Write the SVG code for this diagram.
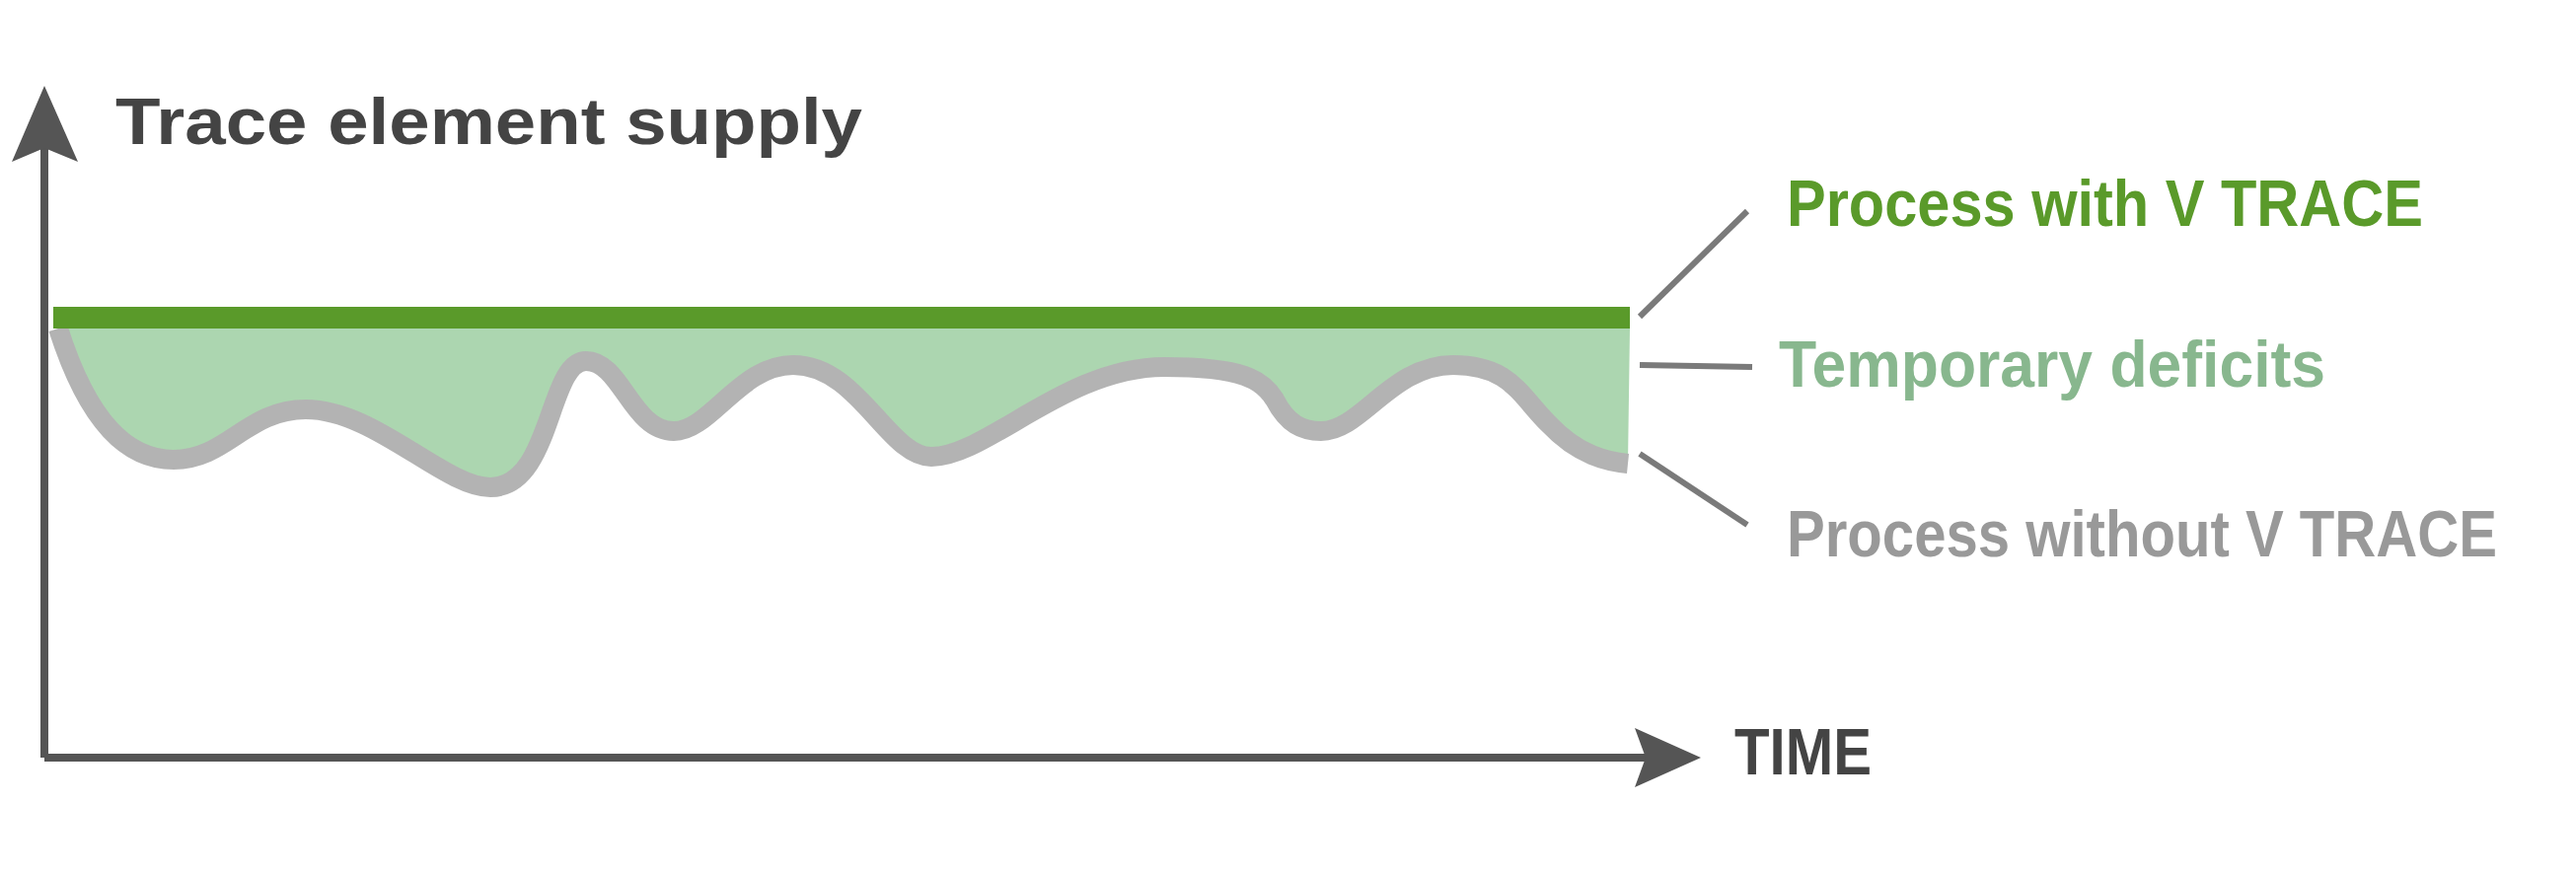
<svg xmlns="http://www.w3.org/2000/svg" width="2611" height="889" viewBox="0 0 2611 889">
<style>
.t{font-family:"Liberation Sans",Arial,sans-serif;font-weight:bold;font-size:66px}
.ax{stroke:#555;stroke-width:8;fill:none}
.c{stroke:#7a7a7a;stroke-width:6}
</style>
<rect width="2611" height="889" fill="#fff"/>
<g id="chart">
<path d="M59,333 C90,430 130,466 176,466 C230,466 250,415 310,415 C380,415 450,494 497,494 C560,494 555,366 594,366 C630,366 640,437 683,437 C720,437 750,370 804,370 C870,370 900,463 944,463 C1000,463 1080,372 1180,372 C1260,372 1280,385 1292,405 C1305,430 1320,437 1339,437 C1380,437 1410,370 1473,370 C1530,370 1540,400 1570,430 C1600,462 1630,468 1650,470 L1652,333 L54,333 Z" fill="#acd6b0"/>
<path d="M59,333 C90,430 130,466 176,466 C230,466 250,415 310,415 C380,415 450,494 497,494 C560,494 555,366 594,366 C630,366 640,437 683,437 C720,437 750,370 804,370 C870,370 900,463 944,463 C1000,463 1080,372 1180,372 C1260,372 1280,385 1292,405 C1305,430 1320,437 1339,437 C1380,437 1410,370 1473,370 C1530,370 1540,400 1570,430 C1600,462 1630,468 1650,470" fill="none" stroke="#b3b3b3" stroke-width="20"/>
<rect x="54" y="311" width="1598" height="22" fill="#5a9a2a"/>
</g>
<g id="axes">
<path class="ax" d="M45,768 V140 M45,768 H1670"/>
<path d="M45,87 L79,164 L45,150 L12,164 Z" fill="#555"/>
<path d="M1724,768 L1657,738 L1668,768 L1657,798 Z" fill="#555"/>
</g>
<g id="connectors">
<line class="c" x1="1662" y1="321" x2="1771" y2="214"/>
<line class="c" x1="1662" y1="370" x2="1776" y2="372"/>
<line class="c" x1="1662" y1="460" x2="1771" y2="532"/>
</g>
<g id="labels">
<text class="t" x="117" y="146" fill="#444" textLength="757" lengthAdjust="spacingAndGlyphs">Trace element supply</text>
<text class="t" x="1811" y="229" fill="#5a9a2a" textLength="645" lengthAdjust="spacingAndGlyphs">Process with V TRACE</text>
<text class="t" x="1803" y="392" fill="#88b78e" textLength="554" lengthAdjust="spacingAndGlyphs">Temporary deficits</text>
<text class="t" x="1811" y="564" fill="#999" textLength="720" lengthAdjust="spacingAndGlyphs">Process without V TRACE</text>
<text class="t" x="1758" y="785" fill="#444" textLength="139" lengthAdjust="spacingAndGlyphs">TIME</text>
</g>
</svg>
